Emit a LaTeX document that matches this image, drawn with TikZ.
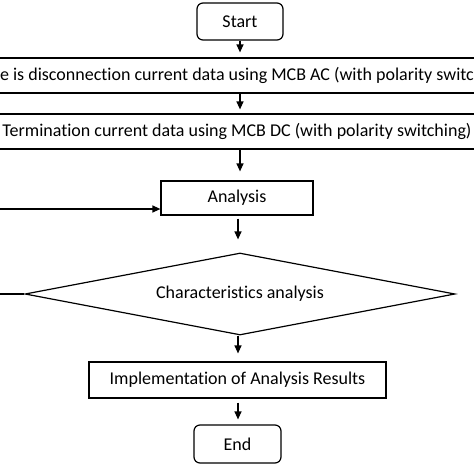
\documentclass[tikz,border=0pt]{standalone}
\usepackage{fontspec}
\setmainfont{Carlito}[Ligatures=NoCommon]
\usetikzlibrary{arrows.meta,shapes.geometric}
\begin{document}
\begin{tikzpicture}[x=1pt,y=-1pt,
  every node/.style={font=\fontsize{18}{20}\selectfont, inner sep=0pt},
  box/.style={draw, line width=1.2pt, rectangle},
  term/.style={draw, line width=1.2pt, rectangle, rounded corners=6pt},
  dec/.style={draw, line width=1.2pt, diamond, aspect=5.2},
  arr/.style={line width=1.2pt, -{Triangle[length=8pt,width=7pt]}},
  ln/.style={line width=1.2pt}]
\useasboundingbox[fill=white] (0,0) rectangle (474,474);
\node[term, minimum width=86pt, minimum height=37pt] (start) at (240,21.5) {Start};
\node[box, minimum width=520pt, minimum height=35pt] (b1) at (237,75.5) {};
\node (t1) at (237,75.5) {e is disconnection current data using MCB AC (with polarity switc};
\node[box, minimum width=520pt, minimum height=35pt] (b2) at (237,131.5) {};
\node (t2) at (237,131.5) {Termination current data using MCB DC (with polarity switching)};
\node[box, minimum width=152pt, minimum height=34pt] (ana) at (237,198) {Analysis};
\node[dec, minimum width=430pt, minimum height=82pt] (dia) at (240,294) {Characteristics analysis};
\node[box, minimum width=297pt, minimum height=36pt] (impl) at (237.5,380) {Implementation of Analysis Results};
\node[term, minimum width=87pt, minimum height=38pt] (end) at (237.5,444) {End};
\coordinate (fa) at (-5,209);
\coordinate (fd) at (-5,294);
\draw[arr, shorten >=5pt] (start.south) -- (start.south |- b1.north);
\draw[arr, shorten >=4pt] (start.south |- b1.south) -- (start.south |- b2.north);
\draw[arr, shorten >=9pt] (start.south |- b2.south) -- (start.south |- ana.north);
\draw[arr, shorten <=3pt, shorten >=13pt] (238,0 |- ana.south) -- (238,0 |- dia.north);
\draw[arr, shorten >=8pt] (238,0 |- dia.south) -- (238,0 |- impl.north);
\draw[arr, shorten <=4pt, shorten >=5pt] (238,0 |- impl.south) -- (238,0 |- end.north);
\draw[arr] (fa) -- (fa -| ana.west);
\draw[ln] (fd) -- (dia.west);
\end{tikzpicture}
\end{document}
